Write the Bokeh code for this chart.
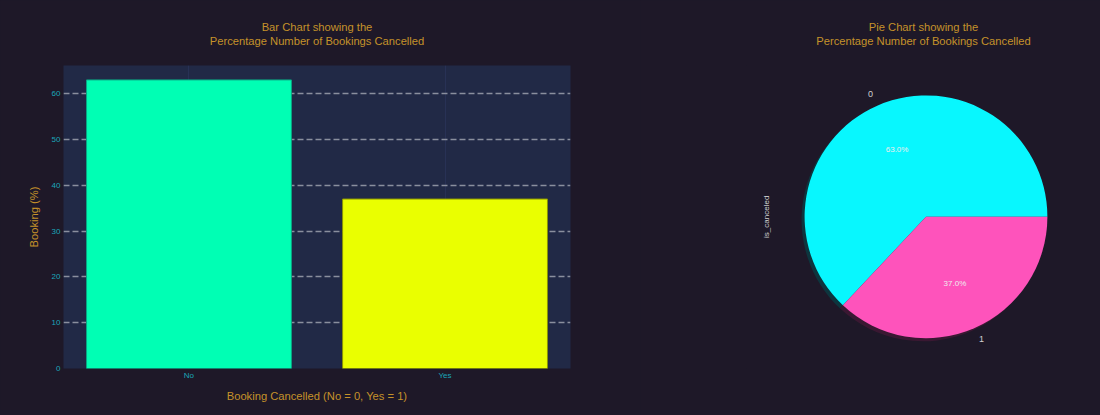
"""キャンセル率の棒グラフと円グラフ."""
import math

import bokeh.models as bm
import bokeh.plotting as bp
from bokeh.core.properties import value
from bokeh.embed import file_html
from bokeh.layouts import row
from bokeh.resources import INLINE

# data
categories = ["No", "Yes"]
booking_pct = [63.0, 37.0]
bar_colors = ["#00ffb4", "#eaff00"]
bar_edges = ["#0aa884", "#8a9400"]
y_ticks = [0, 10, 20, 30, 40, 50, 60]

pie_labels = ["0", "1"]
pie_pct = [63.0, 37.0]
pie_colors = ["#08f7fe", "#fe53bb"]
pie_shadows = ["#024a4c", "#4c1938"]

title_lines = ["Bar Chart showing the", "Percentage Number of Bookings Cancelled"]
pie_title_lines = ["Pie Chart showing the", "Percentage Number of Bookings Cancelled"]

BG = "#1e1828"
PLOT_BG = "#212946"
GOLD = "#c5922a"
TEAL = "#1aa6b8"
FONT = "Liberation Sans"
TITLE_SIZE = "11.2px"

# 共通の枠 (px)
TOP, BOTTOM = 65, 47
HEIGHT = 415


def make_title(text: str, standoff: int) -> bm.Title:
    """中央揃えのタイトル1行."""
    return bm.Title(text=text, align="center", text_color=GOLD, text_font=FONT,
                    text_font_size=TITLE_SIZE, text_font_style="normal", standoff=standoff)


def add_titles(fig: bp.figure, lines: list) -> None:
    """2行のタイトルを付ける (above は先に足したものが枠に近い, title は一番外)."""
    fig.title = make_title(lines[0], 0)
    fig.add_layout(make_title(" ", 5), "above")  # 枠との間の余白
    fig.add_layout(make_title(lines[1], 0), "above")


# bar chart
bar = bp.figure(
    width=640, height=HEIGHT,
    x_range=bm.Range1d(-0.49, 1.49),
    y_range=bm.Range1d(0, max(booking_pct) * 1.05),
    output_backend="svg", toolbar_location=None,
    min_border_left=63, min_border_right=70, min_border_top=TOP, min_border_bottom=BOTTOM,
)
add_titles(bar, title_lines)
bar.background_fill_color = PLOT_BG
bar.border_fill_color = BG
bar.outline_line_color = None

src = bp.ColumnDataSource(dict(
    x=list(range(len(categories))), top=booking_pct, color=bar_colors, edge=bar_edges,
))
bar.vbar(x="x", top="top", width=0.8, bottom=0, fill_color="color", line_color="edge",
         line_width=1, source=src)

bar.xaxis.ticker = bm.FixedTicker(ticks=list(range(len(categories))))
bar.xaxis.major_label_overrides = {i: c for i, c in enumerate(categories)}
bar.yaxis.ticker = bm.FixedTicker(ticks=y_ticks)
bar.xaxis.axis_label = "Booking Cancelled (No = 0, Yes = 1)"
bar.yaxis.axis_label = "Booking (%)"
for ax in (bar.xaxis[0], bar.yaxis[0]):
    ax.axis_line_color = None
    ax.major_tick_line_color = None
    ax.minor_tick_line_color = None
    ax.major_tick_out = 0
    ax.minor_tick_out = 0
    ax.major_label_text_color = TEAL
    ax.major_label_text_font = FONT
    ax.major_label_text_font_size = "8px"
    ax.major_label_standoff = 3
    ax.axis_label_text_color = GOLD
    ax.axis_label_text_font = FONT
    ax.axis_label_text_font_size = TITLE_SIZE
    ax.axis_label_text_font_style = "normal"
bar.xaxis.major_label_standoff = 2
bar.xaxis.axis_label_standoff = 7
bar.yaxis.axis_label_standoff = 9
bar.ygrid.grid_line_color = "#8a8f9e"
bar.ygrid.grid_line_width = 1.5
bar.ygrid.grid_line_dash = "6 3"
bar.xgrid.grid_line_color = "#283155"
bar.xgrid.grid_line_width = 1

# pie chart (unit radius, ranges matched to pixels)
PIE_W = 460
PIE_LEFT = 106
PIE_R = 121.4                  # px
PIE_CX, PIE_CY = 285.5, 216.3  # px inside the figure, from top-left
pie = bp.figure(
    width=PIE_W, height=HEIGHT,
    x_range=bm.Range1d((PIE_LEFT - PIE_CX) / PIE_R, (PIE_W - PIE_CX) / PIE_R),
    y_range=bm.Range1d(-(HEIGHT - BOTTOM - PIE_CY) / PIE_R, (PIE_CY - TOP) / PIE_R),
    output_backend="svg", toolbar_location=None,
    min_border_left=PIE_LEFT, min_border_right=0, min_border_top=TOP, min_border_bottom=BOTTOM,
)
add_titles(pie, pie_title_lines)
pie.axis.visible = False
pie.grid.visible = False
pie.background_fill_color = BG
pie.border_fill_color = BG
pie.outline_line_color = None

total = sum(pie_pct)
starts, ends, mids = [], [], []
acc = 0.0
for v in pie_pct:
    a0 = 2 * math.pi * acc / total
    acc += v
    a1 = 2 * math.pi * acc / total
    starts.append(a0)
    ends.append(a1)
    mids.append((a0 + a1) / 2)

pie.wedge(x=-0.025, y=-0.025, radius=1, start_angle=starts, end_angle=ends,
          fill_color=pie_shadows, fill_alpha=0.6, line_color=None)
pie.wedge(x=0, y=0, radius=1, start_angle=starts, end_angle=ends,
          fill_color=pie_colors, line_color=None)

lab_x = [1.1 * math.cos(m) for m in mids]
lab_y = [1.1 * math.sin(m) for m in mids]
pie.text(x=lab_x, y=lab_y, text=pie_labels,
         text_align=["left" if x > 0 else "right" for x in lab_x],
         text_baseline="middle", text_color="#d0d0d0",
         text_font=value(FONT), text_font_size="9px")
pct_x = [0.6 * math.cos(m) for m in mids]
pct_y = [0.6 * math.sin(m) for m in mids]
pie.text(x=pct_x, y=pct_y, text=[f"{v / total * 100:.1f}%" for v in pie_pct],
         text_align="center", text_baseline="middle", text_color="#eeeeee",
         text_font=value(FONT), text_font_size="8px")
pie.text(x=[-1.316], y=[0], text=["is_canceled"], angle=math.pi / 2,
         text_align="center", text_baseline="middle", text_color="#d0d0d0",
         text_font=value(FONT), text_font_size="8px")

p = row(bar, pie, styles={"background-color": BG})
open("out.html", "w").write(file_html(p, INLINE))
